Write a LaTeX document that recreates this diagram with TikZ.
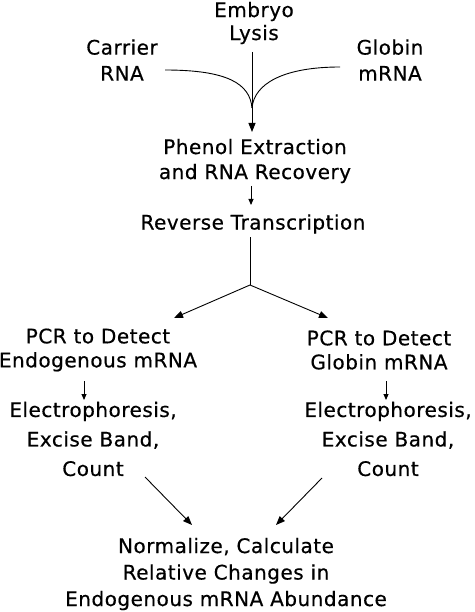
\documentclass[tikz,border=0pt]{standalone}
\usepackage{fontspec}
\setmainfont[LetterSpace=2.5,FakeBold=0.5]{DejaVu Sans}
\usetikzlibrary{arrows.meta}
\begin{document}
\begin{tikzpicture}[x=1pt,y=-1pt,
  txt/.style={align=center,inner sep=0pt},
  ls/.style={font=\fontsize{20}{#1}\selectfont},
  conn/.style={line width=0.9pt,black},
  arr/.style={conn,-{Triangle[length=9pt,width=7pt]}},
  sarr/.style={conn,-{Triangle[length=6pt,width=5pt]}}]
\useasboundingbox[fill=white] (0,0) rectangle (474,612);

\node[txt,ls=23] (lysis) at (254,23) {Embryo\\Lysis};
\node[txt,ls=26] (carrier) at (122,60) {Carrier\\RNA};
\node[txt,ls=26] (globin) at (390,60) {Globin\\mRNA};
\node[txt,ls=25] (phenol) at (255,161) {Phenol Extraction\\and RNA Recovery};
\node[txt,ls=24] (rt) at (253,224) {Reverse Transcription};
\node[txt,ls=24] (pcrL) at (98,350) {PCR to Detect\\Endogenous mRNA};
\node[txt,ls=24] (pcrR) at (379,350) {PCR to Detect\\Globin mRNA};
\node[txt,ls=29.5] (elL) at (93,439) {Electrophoresis,\\Excise Band,\\Count};
\node[txt,ls=29.5] (elR) at (388,439) {Electrophoresis,\\Excise Band,\\Count};
\node[txt,ls=26.5] (norm) at (226,574) {Normalize, Calculate\\Relative Changes in\\Endogenous mRNA Abundance};

% junction points
\coordinate (j1) at (252,108);
\coordinate (lysisOut) at (252,52);
\coordinate (phenolIn) at (252,132);
\coordinate (carrierOut) at (165,70);
\coordinate (globinOut) at (340,67);
\coordinate (phenolOut) at (251,186);
\coordinate (rtIn) at (251,205);
\coordinate (rtOut) at (250,237);
\coordinate (j2) at (250,285);
\coordinate (pcrLIn) at (174,318);
\coordinate (pcrRIn) at (328,318);
\coordinate (pcrLOut) at (84,381);
\coordinate (elLIn) at (84,400);
\coordinate (pcrROut) at (386,381);
\coordinate (elRIn) at (386,400);
\coordinate (elLOut) at (145,477);
\coordinate (normInL) at (192,525);
\coordinate (elROut) at (322,478);
\coordinate (normInR) at (276,525);

\draw[conn] (carrierOut) .. controls (228,70) and (250,84) .. (j1);
\draw[conn] (globinOut) .. controls (283,67) and (254,84) .. (j1);
\draw[arr] (lysisOut) -- (phenolIn);
\draw[sarr] (phenolOut) -- (rtIn);
\draw[conn] (rtOut) -- (j2);
\draw[arr] (j2) -- (pcrLIn);
\draw[arr] (j2) -- (pcrRIn);
\draw[sarr] (pcrLOut) -- (elLIn);
\draw[sarr] (pcrROut) -- (elRIn);
\draw[arr] (elLOut) -- (normInL);
\draw[arr] (elROut) -- (normInR);
\end{tikzpicture}
\end{document}
